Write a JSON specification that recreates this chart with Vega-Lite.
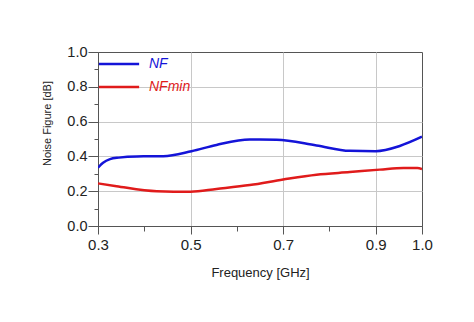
{
  "$schema": "https://vega.github.io/schema/vega-lite/v6.json",
  "width": 324,
  "height": 174,
  "autosize": {"type": "none"},
  "padding": {"left": 98, "top": 52, "right": 52, "bottom": 96},
  "background": "white",
  "config": {
    "view": {"stroke": "#555", "strokeWidth": 1},
    "font": "Liberation Sans"
  },
  "data": {
    "values": [
      {"f": 0.300, "v": 0.335, "s": "NF"},
      {"f": 0.311, "v": 0.363, "s": "NF"},
      {"f": 0.326, "v": 0.384, "s": "NF"},
      {"f": 0.345, "v": 0.393, "s": "NF"},
      {"f": 0.384, "v": 0.400, "s": "NF"},
      {"f": 0.441, "v": 0.401, "s": "NF"},
      {"f": 0.502, "v": 0.430, "s": "NF"},
      {"f": 0.556, "v": 0.466, "s": "NF"},
      {"f": 0.628, "v": 0.497, "s": "NF"},
      {"f": 0.686, "v": 0.496, "s": "NF"},
      {"f": 0.772, "v": 0.463, "s": "NF"},
      {"f": 0.844, "v": 0.432, "s": "NF"},
      {"f": 0.900, "v": 0.430, "s": "NF"},
      {"f": 0.952, "v": 0.460, "s": "NF"},
      {"f": 1.000, "v": 0.513, "s": "NF"},
      {"f": 0.300, "v": 0.245, "s": "NFmin"},
      {"f": 0.340, "v": 0.229, "s": "NFmin"},
      {"f": 0.427, "v": 0.200, "s": "NFmin"},
      {"f": 0.500, "v": 0.197, "s": "NFmin"},
      {"f": 0.556, "v": 0.213, "s": "NFmin"},
      {"f": 0.628, "v": 0.235, "s": "NFmin"},
      {"f": 0.700, "v": 0.267, "s": "NFmin"},
      {"f": 0.772, "v": 0.295, "s": "NFmin"},
      {"f": 0.844, "v": 0.310, "s": "NFmin"},
      {"f": 0.909, "v": 0.324, "s": "NFmin"},
      {"f": 0.960, "v": 0.334, "s": "NFmin"},
      {"f": 0.990, "v": 0.333, "s": "NFmin"},
      {"f": 1.000, "v": 0.328, "s": "NFmin"}
    ]
  },
  "mark": {"type": "line", "strokeWidth": 2.5, "interpolate": "monotone", "clip": true},
  "encoding": {
    "x": {
      "field": "f", "type": "quantitative",
      "scale": {"domain": [0.3, 1.0], "nice": false, "zero": false},
      "axis": {
        "values": [0.3, 0.4, 0.5, 0.6, 0.7, 0.8, 0.9, 1.0],
        "labelExpr": "indexof([3,5,7,9,10], round(datum.value*10)) >= 0 ? format(datum.value, '.1f') : ''",
        "title": "Frequency [GHz]",
        "titleFontSize": 13, "titleFontWeight": "normal", "titleColor": "#222",
        "titleBaseline": "top", "titleY": 40,
        "labelFontSize": 15, "labelColor": "#222", "labelPadding": 3,
        "labelFlush": false, "labelOverlap": false,
        "domainColor": "#555", "tickColor": "#555",
        "tickSize": {"condition": {"test": "indexof([3,5,7,9,10], round(datum.value*10)) >= 0", "value": 8}, "value": 5},
        "grid": true,
        "gridColor": "#c8c8c8",
        "gridOpacity": {"condition": {"test": "indexof([5,7,9], round(datum.value*10)) >= 0", "value": 1}, "value": 0}
      }
    },
    "y": {
      "field": "v", "type": "quantitative",
      "scale": {"domain": [0, 1.0], "nice": false},
      "axis": {
        "values": [0, 0.1, 0.2, 0.3, 0.4, 0.5, 0.6, 0.7, 0.8, 0.9, 1.0],
        "labelExpr": "round(datum.value*10) % 2 == 0 ? format(datum.value, '.1f') : ''",
        "title": "Noise Figure [dB]",
        "titleFontSize": 11, "titleFontWeight": "normal", "titleColor": "#222",
        "titleX": -46, "titleY": 71,
        "labelFontSize": 14.5, "labelColor": "#222", "labelPadding": 1,
        "labelFlush": false, "labelOverlap": false,
        "domainColor": "#555", "tickColor": "#555",
        "tickSize": {"condition": {"test": "round(datum.value*10) % 2 == 0", "value": 10}, "value": 4},
        "grid": true,
        "gridColor": "#c8c8c8",
        "gridOpacity": {"condition": {"test": "round(datum.value*10) % 2 == 0 && datum.value > 0.05 && datum.value < 0.95", "value": 1}, "value": 0}
      }
    },
    "color": {
      "field": "s", "type": "nominal",
      "scale": {"domain": ["NF", "NFmin"], "range": ["#1414d8", "#e01b1b"]},
      "legend": {
        "title": null,
        "orient": "none",
        "legendX": 8, "legendY": -1,
        "padding": 0,
        "symbolType": "M-1.75,0H1.75",
        "symbolSize": 529,
        "symbolStrokeWidth": 2.5,
        "labelFontSize": 14,
        "labelFontStyle": "italic",
        "labelOffset": 17,
        "rowPadding": 3,
        "encode": {"labels": {"update": {"fill": {"scale": "color", "field": "value"}}}}
      }
    }
  }
}
